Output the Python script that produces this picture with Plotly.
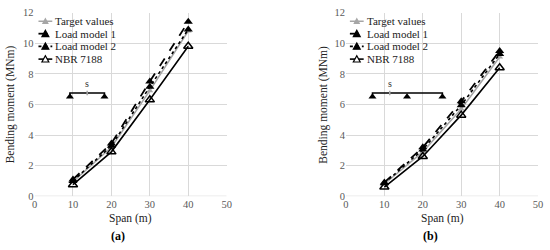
import plotly.graph_objects as go

span = [10, 20, 30, 40]
a_target = [0.95, 3.2, 6.9, 10.8]
a_lm1 = [1.1, 3.45, 7.5, 11.4]
a_lm2 = [1.0, 3.3, 7.15, 10.9]
a_nbr = [0.75, 2.9, 6.3, 9.8]

b_target = [0.8, 2.9, 5.7, 9.1]
b_lm1 = [0.9, 3.2, 6.2, 9.5]
b_lm2 = [0.85, 3.05, 5.95, 9.3]
b_nbr = [0.6, 2.6, 5.3, 8.4]

names = ["Target values", "Load model 1", "Load model 2", "NBR 7188"]
x_ticks = [0, 10, 20, 30, 40, 50]
y_ticks = [0, 2, 4, 6, 8, 10, 12]

# beam sketch supports (in data coords)
a_supports = [9.2, 18.2]
b_supports = [6.9, 15.9, 25.1]
beam_y = 6.75
support_y = 6.5

W, H = 550, 250
FONT = "Liberation Serif, Times New Roman, serif"
GRAY = "#a6a6a6"
styles = [
    dict(line=dict(color=GRAY, width=1.5, dash="solid"),
         marker=dict(symbol="triangle-up", size=6, color=GRAY)),
    dict(line=dict(color="black", width=1.8, dash="dash"),
         marker=dict(symbol="triangle-up", size=8, color="black")),
    dict(line=dict(color="black", width=1.6, dash="dot"),
         marker=dict(symbol="triangle-up", size=8, color="black")),
    dict(line=dict(color="black", width=1.6, dash="solid"),
         marker=dict(symbol="triangle-up-open", size=8, color="black", line=dict(width=1.5))),
]
legend_line = [
    dict(color=GRAY, width=1.5, dash="solid"),
    dict(color="black", width=1.8, dash="dash"),
    dict(color="black", width=1.6, dash="dot"),
    dict(color="black", width=1.6, dash="solid"),
]
legend_marker = [(GRAY, GRAY, 5), ("black", "black", 7), ("black", "black", 7), ("white", "black", 7)]

fig = go.Figure()
for series, xa, ya in [
    ([a_target, a_lm1, a_lm2, a_nbr], "x", "y"),
    ([b_target, b_lm1, b_lm2, b_nbr], "x2", "y2"),
]:
    for name, vals, st in zip(names, series, styles):
        fig.add_trace(go.Scatter(x=span, y=vals, name=name, mode="lines+markers",
                                 xaxis=xa, yaxis=ya, showlegend=False, **st))

# beam sketches
for sup, xa, ya in [(a_supports, "x", "y"), (b_supports, "x2", "y2")]:
    fig.add_trace(go.Scatter(x=[sup[0], sup[0], sup[-1], sup[-1]],
                             y=[support_y + 0.1, beam_y, beam_y, support_y + 0.1],
                             mode="lines", line=dict(color="black", width=1.5),
                             showlegend=False, xaxis=xa, yaxis=ya, hoverinfo="skip"))
    fig.add_trace(go.Scatter(x=sup, y=[support_y] * len(sup), mode="markers",
                             marker=dict(symbol="triangle-up", size=7, color="black"),
                             showlegend=False, xaxis=xa, yaxis=ya, hoverinfo="skip"))
    mid = (sup[0] + sup[1]) / 2
    fig.add_trace(go.Scatter(x=[mid, mid], y=[beam_y - 0.15, beam_y + 0.15], mode="lines",
                             line=dict(color=GRAY, width=1.5),
                             showlegend=False, xaxis=xa, yaxis=ya, hoverinfo="skip"))
    fig.add_annotation(x=mid, y=beam_y + 0.6, xref=xa, yref=ya, text="s", showarrow=False,
                       xanchor="center", yanchor="middle",
                       font=dict(family=FONT, size=10, color="#333"))

axis_common = dict(range=[0, 50], tickvals=x_ticks, showgrid=True, gridcolor="#d9d9d9",
                   gridwidth=1, zeroline=False, showline=False, ticks="",
                   tickfont=dict(family=FONT, size=10.5, color="#595959"))
yaxis_common = dict(range=[0, 12], tickvals=y_ticks, showgrid=True, gridcolor="#d9d9d9",
                    gridwidth=1, zeroline=False, showline=False, ticks="",
                    tickfont=dict(family=FONT, size=10.5, color="#595959"))

shapes = [
    dict(type="line", xref="x", yref="y", x0=0, x1=50, y0=0, y1=0,
         line=dict(color="#d9d9d9", width=1)),
    dict(type="line", xref="x2", yref="y2", x0=0, x1=50, y0=0, y1=0,
         line=dict(color="#d9d9d9", width=1)),
]


def px(x):
    return x / W


def py(y):
    return 1 - y / H


# manual compact legends (pixel positions)
legend_rows = [17, 30, 43.3, 56.6]
for lx0 in [36, 352]:
    for i, name in enumerate(names):
        yy = legend_rows[i]
        shapes.append(dict(type="line", xref="paper", yref="paper",
                           x0=px(lx0), x1=px(lx0 + 14), y0=py(yy), y1=py(yy),
                           line=legend_line[i]))
        fill, edge, s = legend_marker[i]
        cx = lx0 + 7
        path = "M {:.5f},{:.5f} L {:.5f},{:.5f} L {:.5f},{:.5f} Z".format(
            px(cx - s / 2), py(yy + s * 0.43), px(cx + s / 2), py(yy + s * 0.43),
            px(cx), py(yy - s * 0.5))
        shapes.append(dict(type="path", xref="paper", yref="paper", path=path,
                           fillcolor=fill, line=dict(color=edge, width=1.2)))
        fig.add_annotation(xref="paper", yref="paper", x=px(lx0 + 15), y=py(yy),
                           xanchor="left", yanchor="middle", text=name, showarrow=False,
                           font=dict(family=FONT, size=11, color="#222"))

fig.update_layout(
    width=W, height=H, margin=dict(l=0, r=0, t=0, b=0),
    plot_bgcolor="white", paper_bgcolor="white", showlegend=False,
    xaxis=dict(domain=[32 / W, 227 / W], anchor="y", **axis_common),
    yaxis=dict(domain=[1 - 200 / H, 1 - 8 / H], anchor="x", **yaxis_common),
    xaxis2=dict(domain=[348 / W, 543 / W], anchor="y2", **axis_common),
    yaxis2=dict(domain=[1 - 200 / H, 1 - 8 / H], anchor="x2", **yaxis_common),
    shapes=shapes,
)

for xc in [129.5, 445.5]:
    fig.add_annotation(xref="paper", yref="paper", x=px(xc), y=py(223), text="Span (m)",
                       xanchor="center", yanchor="middle",
                       showarrow=False, font=dict(family=FONT, size=11.5, color="#222"))
for xc in [8, 325]:
    fig.add_annotation(xref="paper", yref="paper", x=px(xc), y=py(104), text="Bending moment (MNm)",
                       xanchor="center", yanchor="middle",
                       textangle=-90, showarrow=False, font=dict(family=FONT, size=11.5, color="#222"))
for xc, lab in [(117, "(a)"), (434, "(b)")]:
    fig.add_annotation(xref="paper", yref="paper", x=px(xc), y=py(242), text="<b>" + lab + "</b>",
                       xanchor="center", yanchor="middle",
                       showarrow=False, font=dict(family=FONT, size=12, color="black"))

fig.write_html("out.html", config={"displayModeBar": False},
               post_script="document.body.style.margin='0';document.body.style.overflow='hidden';")
